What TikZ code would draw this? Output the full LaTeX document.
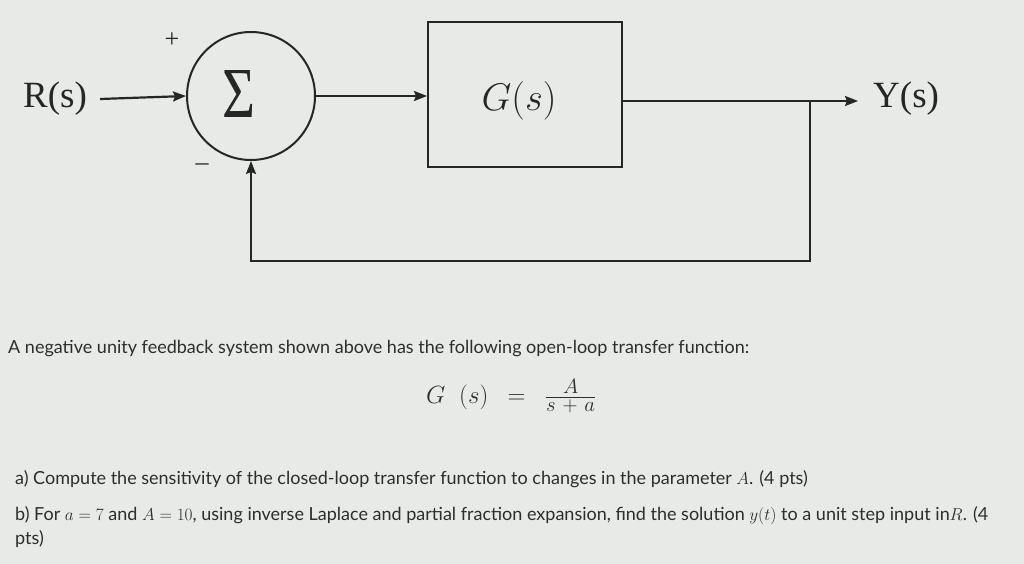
\documentclass[tikz,border=0pt]{standalone}
\usepackage{graphicx}
\usepackage{fontspec}
\setmainfont{Lato}
\newfontfamily\diagserif{Liberation Serif}
\usetikzlibrary{arrows.meta,calc}
\definecolor{bgc}{RGB}{231,234,231}
\definecolor{ink}{RGB}{38,38,38}
\definecolor{txt}{RGB}{45,45,45}
\tikzset{
  wire/.style={draw=ink,line width=2.2pt},
  arr/.style={wire,-{Stealth[length=13pt,width=10pt,inset=2pt]}},
  sumnode/.style={circle,draw=ink,line width=2pt,minimum size=128pt,inner sep=0pt},
  blockbox/.style={draw=ink,line width=2pt,minimum width=194pt,minimum height=145pt,inner sep=0pt},
  siglabel/.style={font=\diagserif\fontsize{37}{40}\selectfont,text=ink,inner sep=0pt},
  sgn/.style={font=\diagserif\fontsize{26}{28}\selectfont,text=ink,inner sep=0pt},
  body/.style={font=\fontsize{18}{21}\selectfont,text=txt,inner sep=0pt,anchor=base west},
}
\begin{document}
\begin{tikzpicture}[x=1pt,y=-1pt]
\fill[bgc] (0,0) rectangle (1024,564);
\useasboundingbox (0,0) rectangle (1024,564);
% diagram
\node[siglabel] (R) at (55,99) {R(s)};
\node[sumnode] (sum) at (251,96) {};
\node[text=ink,inner sep=0pt] (sigma) at (238.5,94) {\resizebox{33pt}{47pt}{\diagserif Σ}};
\node[sgn] (plus) at (172,40) {+};
\node[sgn] (minus) at (202,167) {–};
\node[blockbox] (G) at (525,94.5) {};
\node[font=\fontsize{24.88}{28}\selectfont,text=ink,inner sep=0pt] (Gtxt) at (519,101) {\scalebox{1.55}{$G(s)$}};
\coordinate (branch) at (810,101);
\coordinate (fb) at (810,261);
\node[siglabel,anchor=west] (Y) at (873,99) {Y(s)};
\draw[arr] ([xshift=13pt]R.east) -- (sum.west);
\draw[arr] (sum.east) -- (sum.east -| G.west);
\draw[wire] (G.east |- branch) -- (branch);
\draw[arr] (branch) -- ([xshift=-15pt]Y.west |- branch);
\draw[arr] (branch) -- (fb) -| (sum.south);
% text
\node[body] (t1) at (8,353) {A negative unity feedback system shown above has the following open-loop transfer function:};
\node[font=\fontsize{24.88}{28}\selectfont,text=txt,inner sep=0pt,anchor=west] (eq) at (426,396) {$G\mkern10mu(s)\mkern9mu=\mkern9mu\frac{A}{s\mkern6mu+\mkern6mu a}$};
\node[body] (ta) at (15,484) {a) Compute the sensitivity of the closed-loop transfer function to changes in the parameter $A$. (4 pts)};
\node[body] (tb) at (15,520) {b) For $a = 7$ and $A = 10$, using inverse Laplace and partial fraction expansion, find the solution $y(t)$ to a unit step input in$R$. (4};
\node[body] (tc) at (15,544) {pts)};
\end{tikzpicture}
\end{document}
